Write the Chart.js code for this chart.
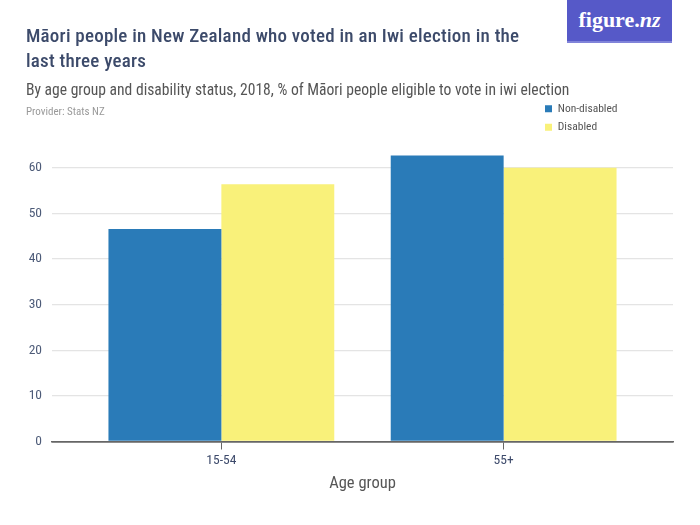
<!DOCTYPE html>
<html>
<head>
<meta charset="utf-8">
<script src="https://cdn.jsdelivr.net/npm/chart.js@4.4.1/dist/chart.umd.min.js"></script>
<style>
  html, body { margin: 0; padding: 0; background: #fff; }
  body { width: 700px; height: 525px; position: relative; overflow: hidden;
         font-family: "Roboto Condensed", "DejaVu Sans Condensed", sans-serif; }
  #wrap { position: absolute; left: 0; top: 0; width: 700px; height: 525px; }
  .txt { position: absolute; white-space: nowrap; }
  #title { left: 26px; top: 22.5px; font-size: 19px; line-height: 25.7px; font-weight: 500;
           letter-spacing: 0.23px; color: #3c4a6a; }
  #subtitle { left: 26px; top: 79.5px; font-size: 15.6px; line-height: 20px; color: #555; }
  #provider { left: 26px; top: 105px; font-size: 11px; line-height: 13px; color: #999; }
  #logo { position: absolute; left: 567px; top: 0; width: 105px; height: 41px;
          background: #5659c8; border-bottom: 2px solid #8083d9;
          color: #fff; font-family: "Liberation Serif", "DejaVu Serif", serif; font-weight: bold;
          font-size: 22px; line-height: 40px; text-align: center; }
  #logo i { font-weight: bold; }
</style>
</head>
<body>
<div id="wrap"><canvas id="chart" width="700" height="525"></canvas></div>
<div id="title" class="txt">Māori people in New Zealand who voted in an Iwi election in the<br>last three years</div>
<div id="subtitle" class="txt">By age group and disability status, 2018, % of Māori people eligible to vote in iwi election</div>
<div id="provider" class="txt">Provider: Stats NZ</div>
<div id="logo">figure.<i>nz</i></div>
<script>
// values
var categories = ['15-54', '55+'];
var nonDisabled = [46.6, 62.7];
var disabled = [56.4, 60.0];
var yTicks = [0, 10, 20, 30, 40, 50, 60];

Chart.defaults.font.family = '"Roboto Condensed", "DejaVu Sans Condensed", sans-serif';

function points(values) {
  return values.map(function (v, i) { return { x: i + 1, y: v }; });
}

// move the legend to the top right corner, above the plot
var legendPlacer = {
  id: 'legendPlacer',
  afterLayout: function (chart) {
    var lg = chart.legend;
    if (!lg) return;
    var w = lg.width, h = lg.height;
    lg.left = 538;
    lg.top = 96;
    lg.right = lg.left + w;
    lg.bottom = lg.top + h;
  }
};

var ctx = document.getElementById('chart').getContext('2d');
new Chart(ctx, {
  type: 'bar',
  data: {
    datasets: [
      { label: 'Non-disabled', data: points(nonDisabled), backgroundColor: '#2a7bb8',
        categoryPercentage: 0.8, barPercentage: 1.0 },
      { label: 'Disabled', data: points(disabled), backgroundColor: '#f9f17a',
        categoryPercentage: 0.8, barPercentage: 1.0 }
    ]
  },
  options: {
    responsive: false,
    animation: false,
    layout: { padding: { top: 145, right: 27, left: 0, bottom: 0 } },
    plugins: {
      tooltip: { enabled: false },
      legend: {
        position: 'chartArea',
        align: 'start',
        labels: { boxWidth: 7, boxHeight: 7, padding: 7, color: '#555',
                  font: { size: 11.5 } }
      }
    },
    scales: {
      x: {
        type: 'linear',
        min: 0.4,
        max: 2.6,
        offset: false,
        afterBuildTicks: function (axis) {
          axis.ticks = categories.map(function (c, i) { return { value: i + 1 }; });
        },
        afterFit: function (axis) { axis.height = 83.5; },
        ticks: {
          color: '#3d4a6b',
          font: { size: 13.5 },
          padding: 3,
          callback: function (v) { return categories[v - 1]; }
        },
        grid: { drawOnChartArea: false, offset: false, color: '#666', tickLength: 8 },
        border: { display: true, color: '#666', width: 1.5 },
        title: { display: true, text: 'Age group', color: '#555',
                 font: { size: 16.5 }, padding: { top: 4, bottom: 31 } }
      },
      y: {
        min: 0,
        max: 65,
        afterBuildTicks: function (axis) {
          axis.ticks = yTicks.map(function (v) { return { value: v }; });
        },
        afterFit: function (axis) { axis.width = 52; },
        ticks: { color: '#4d5b78', font: { size: 13.5 }, padding: 10 },
        grid: {
          drawTicks: false,
          color: function (c) { return c.tick && c.tick.value === 0 ? '#666' : '#e4e4e4'; },
          lineWidth: function (c) { return c.tick && c.tick.value === 0 ? 1.5 : 1.2; }
        },
        border: { display: false }
      }
    }
  },
  plugins: [legendPlacer]
});
</script>
</body>
</html>
